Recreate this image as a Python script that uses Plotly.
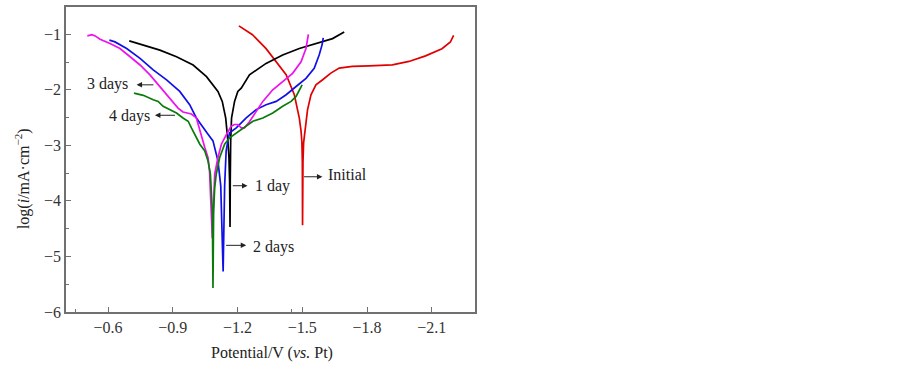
import plotly.graph_objects as go

# Potential (V vs. Pt) and log(i / mA·cm^-2) for each polarization curve
initial_v = [-1.206, -1.269, -1.332, -1.378, -1.425, -1.463, -1.486, -1.494, -1.498, -1.500, -1.501,
             -1.503, -1.506, -1.514, -1.524, -1.540, -1.563, -1.594, -1.632, -1.671, -1.732, -1.809,
             -1.917, -1.994, -2.071, -2.147, -2.186, -2.201]
initial_l = [-0.85, -1.01, -1.26, -1.49, -1.73, -2.09, -2.51, -2.74, -2.95, -3.30, -4.44,
             -3.30, -2.95, -2.66, -2.36, -2.09, -1.91, -1.82, -1.70, -1.61, -1.58, -1.57,
             -1.55, -1.49, -1.39, -1.26, -1.14, -1.02]

day1_v = [-0.698, -0.763, -0.840, -0.917, -0.994, -1.056, -1.109, -1.129, -1.145, -1.155, -1.160,
          -1.163, -1.165, -1.166, -1.168, -1.172, -1.186, -1.201, -1.217, -1.255, -1.332, -1.409,
          -1.486, -1.563, -1.640, -1.694]
day1_l = [-1.12, -1.196, -1.286, -1.405, -1.554, -1.763, -2.03, -2.21, -2.51, -2.92, -3.22,
          -3.64, -4.47, -3.64, -2.92, -2.51, -2.21, -2.03, -1.97, -1.73, -1.525, -1.375,
          -1.257, -1.168, -1.079, -0.96]

day2_v = [-0.606, -0.632, -0.686, -0.748, -0.809, -0.871, -0.932, -0.978, -1.009, -1.040, -1.063,
          -1.086, -1.101, -1.109, -1.122, -1.133, -1.140, -1.147, -1.155, -1.163, -1.194, -1.240,
          -1.286, -1.332, -1.379, -1.425, -1.471, -1.517, -1.555, -1.578, -1.591, -1.597]
day2_l = [-1.107, -1.138, -1.257, -1.436, -1.643, -1.821, -2.03, -2.268, -2.507, -2.686, -2.80,
          -2.92, -3.16, -3.28, -3.73, -5.27, -3.73, -3.10, -2.92, -2.775, -2.686, -2.507,
          -2.357, -2.268, -2.209, -2.089, -1.941, -1.793, -1.614, -1.375, -1.196, -1.066]

day3_v = [-0.504, -0.525, -0.540, -0.563, -0.609, -0.655, -0.702, -0.748, -0.794, -0.840, -0.886,
          -0.924, -0.947, -0.986, -1.009, -1.017, -1.032, -1.048, -1.063, -1.070, -1.083, -1.094,
          -1.109, -1.125, -1.140, -1.155, -1.170, -1.186, -1.201, -1.217, -1.232, -1.255, -1.286,
          -1.317, -1.363, -1.409, -1.455, -1.494, -1.517, -1.528]
day3_l = [-1.03, -1.007, -1.03, -1.089, -1.168, -1.257, -1.405, -1.554, -1.732, -1.941, -2.15,
          -2.329, -2.40, -2.436, -2.507, -2.625, -2.80, -3.04, -3.22, -3.46, -4.67, -3.52,
          -3.22, -2.98, -2.864, -2.745, -2.655, -2.625, -2.625, -2.686, -2.686, -2.575, -2.39,
          -2.209, -2.0, -1.852, -1.704, -1.495, -1.257, -1.004]

day4_v = [-0.720, -0.763, -0.809, -0.832, -0.855, -0.886, -0.917, -0.947, -0.971, -0.986, -1.001,
          -1.025, -1.048, -1.063, -1.074, -1.078, -1.083, -1.086, -1.089, -1.094, -1.101, -1.117,
          -1.140, -1.163, -1.194, -1.224, -1.271, -1.317, -1.363, -1.409, -1.448, -1.471, -1.486,
          -1.499]
day4_l = [-2.061, -2.10, -2.179, -2.209, -2.298, -2.357, -2.418, -2.507, -2.566, -2.686, -2.80,
          -2.98, -3.10, -3.28, -3.52, -3.76, -4.17, -5.57, -4.17, -3.76, -3.52, -3.22,
          -2.98, -2.864, -2.775, -2.686, -2.566, -2.507, -2.418, -2.298, -2.209, -2.12, -2.0,
          -1.911]

series = [
    ("Initial", initial_v, initial_l, "#e00000"),
    ("1 day", day1_v, day1_l, "#000000"),
    ("2 days", day2_v, day2_l, "#1010e6"),
    ("3 days", day3_v, day3_l, "#ee10ee"),
    ("4 days", day4_v, day4_l, "#0a7a0a"),
]

# label text, text position (V, log i), arrow tail (V), arrow head (V), arrow level (log i)
labels = [
    ("3 days", -0.598, -1.888, -0.817, -0.732, -1.911),
    ("4 days", -0.700, -2.477, -0.917, -0.817, -2.459),
    ("1 day", -1.361, -3.727, -1.171, -1.246, -3.727),
    ("2 days", -1.366, -4.83, -1.140, -1.240, -4.80),
    ("Initial", -1.711, -3.518, -1.501, -1.593, -3.566),
]

x_ticks = [-0.6, -0.9, -1.2, -1.5, -1.8, -2.1]
x_ticktext = ["\u22120.6", "\u22120.9", "\u22121.2", "\u22121.5", "\u22121.8", "\u22122.1"]
y_ticks = [-1, -2, -3, -4, -5, -6]
y_ticktext = ["\u22121", "\u22122", "\u22123", "\u22124", "\u22125", "\u22126"]

FONT = "Liberation Serif, Times New Roman, serif"

fig = go.Figure()
for name, v, l, c in series:
    fig.add_trace(go.Scatter(x=v, y=l, mode="lines", name=name,
                             line=dict(color=c, width=1.7), showlegend=False))

ann = []
for text, tx, ty, tail, head, ly in labels:
    ann.append(dict(x=head, y=ly, ax=tail, ay=ly, xref="x", yref="y", axref="x", ayref="y",
                    text="", showarrow=True, arrowhead=2, arrowsize=1.1, arrowwidth=1,
                    arrowcolor="#222222", standoff=0, startstandoff=0))
    ann.append(dict(x=tx, y=ty, xref="x", yref="y", text=text, showarrow=False,
                    font=dict(family=FONT, size=16, color="#222222"),
                    xanchor="center", yanchor="middle"))

ann.append(dict(x=-0.1076, y=0.439, xref="paper", yref="paper",
                text="log(<i>i</i>/mA\u00b7cm<sup>\u22122</sup>)", textangle=-90,
                showarrow=False, font=dict(family=FONT, size=16, color="#222222"),
                xanchor="center", yanchor="middle"))
ann.append(dict(x=0.504, y=-0.135, xref="paper", yref="paper",
                text="Potential/V (<i>vs.</i> Pt)", showarrow=False,
                font=dict(family=FONT, size=16, color="#222222"),
                xanchor="center", yanchor="middle"))

axis_common = dict(showgrid=False, zeroline=False, showline=True, linecolor="#707070",
                   linewidth=1.5, mirror=True, ticks="inside", ticklen=5, tickwidth=1.2,
                   tickcolor="#707070", tickfont=dict(family=FONT, size=16, color="#333333"))

fig.update_layout(
    width=903, height=366,
    margin=dict(l=66, r=428, t=5, b=54),
    paper_bgcolor="white", plot_bgcolor="white",
    annotations=ann,
    xaxis=dict(range=[-0.405, -2.30], tickmode="array", tickvals=x_ticks, ticktext=x_ticktext,
               minor=dict(ticks="inside", ticklen=3, tick0=-0.45, dtick=-0.3, tickcolor="#707070"),
               **axis_common),
    yaxis=dict(range=[-6, -0.51], tickmode="array", tickvals=y_ticks, ticktext=y_ticktext,
               minor=dict(ticks="inside", ticklen=3, tick0=-1.5, dtick=1, tickcolor="#707070"),
               **axis_common),
)

fig.write_html("out.html", config={"displayModeBar": False},
               post_script="document.body.style.margin='0';document.body.style.overflow='hidden';")
